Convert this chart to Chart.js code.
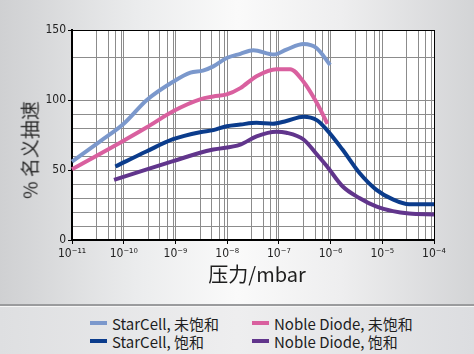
<!DOCTYPE html>
<html>
<head>
<meta charset="utf-8">
<script src="https://cdn.jsdelivr.net/npm/chart.js@4/dist/chart.umd.min.js"></script>
<style>
    body { margin: 0; width: 474px; height: 354px; overflow: hidden; font-family: "Liberation Sans Narrow", "Noto Sans CJK SC", sans-serif; }
    #top { position: absolute; left: 0; top: 0; width: 474px; height: 305px;
        background: linear-gradient(90deg, #cfd0d2 0%, #ecedee 30%, #fafafa 50%, #eeeeef 72%, #d3d4d6 100%); }
    #chart { position: absolute; left: 0; top: 0; }
    #ytitle { position: absolute; left: 29px; top: 150px; transform: translate(-50%, -50%) rotate(-90deg);
        font-family: "Noto Sans CJK SC", sans-serif; font-size: 19px; color: #2a2a2a; white-space: nowrap; }
    #xtitle { position: absolute; left: 257px; top: 273px; transform: translate(-50%, -50%);
        font-family: "Noto Sans CJK SC", sans-serif; font-size: 20px; color: #1e1e1e; white-space: nowrap; }
    #sep { position: absolute; left: 0; top: 304px; width: 474px; height: 2px; background: #9a9b9d; border-bottom: 1px solid #f6f6f6; }
    #bottom { position: absolute; left: 0; top: 307px; width: 474px; height: 47px;
        background: linear-gradient(90deg, #dedfe1 0%, #eeeeef 50%, #dcdde0 100%); }
    .item { position: absolute; display: flex; align-items: center; font-size: 15px; color: #1e1e1e; white-space: nowrap;
        font-family: "Liberation Sans Narrow", "Noto Sans CJK SC", sans-serif; }
    .item span.sw { display: inline-block; width: 17px; height: 4px; margin-right: 5px; }
</style>
</head>
<body>
<div id="top">
    <canvas id="chart" width="474" height="290"></canvas>
    <div id="ytitle">% 名义抽速</div>
    <div id="xtitle">压力/mbar</div>
</div>
<div id="sep"></div>
<div id="bottom"></div>
<div id="legend"></div>
<script>
// Axis ticks
const xDecades = [1e-11, 1e-10, 1e-9, 1e-8, 1e-7, 1e-6, 1e-5, 1e-4];
const xTickLabels = ['10⁻¹¹', '10⁻¹⁰', '10⁻⁹', '10⁻⁸', '10⁻⁷', '10⁻⁶', '10⁻⁵', '10⁻⁴'];
const xMinorSteps = [1, 3, 5, 7, 9];
const yGridValues = [0, 10, 20, 30, 40, 50, 60, 70, 80, 90, 100, 130, 150];
const yTickLabels = [0, 50, 100, 150];

// Series (pressure in mbar, % nominal pumping speed)
const seriesNames = ['StarCell, 未饱和', 'Noble Diode, 未饱和', 'StarCell, 饱和', 'Noble Diode, 饱和'];

const starUnsatP = [1e-11, 3.5e-11, 1e-10, 2.8e-10, 9e-10, 1.95e-9, 3.4e-9, 5.4e-9, 9.8e-9, 1.8e-8, 3.2e-8, 8e-8, 1.4e-7, 3e-7, 5.4e-7, 9.8e-7];
const starUnsatV = [56, 70.5, 83, 100, 113, 119.5, 121, 124, 130, 133, 135.5, 132.5, 136, 140, 137, 125];

const nobleUnsatP = [1e-11, 8.5e-11, 2.8e-10, 9e-10, 3e-9, 5.4e-9, 9.8e-9, 1.8e-8, 3.7e-8, 9e-8, 1.65e-7, 3e-7, 5.4e-7, 8.7e-7];
const nobleUnsatV = [50.5, 69.5, 80.5, 92, 100.5, 102.5, 104, 108.5, 117, 122, 122, 113, 98, 83];

const starSatP = [6.9e-11, 2.8e-10, 9e-10, 3e-9, 5.4e-9, 9.8e-9, 1.8e-8, 3.7e-8, 7.6e-8, 1.4e-7, 3e-7, 5.4e-7, 8.3e-7, 1.7e-6, 3.6e-6, 7.6e-6, 1.6e-5, 3.3e-5, 1e-4];
const starSatV = [52.5, 63.4, 72, 77, 78.5, 81.3, 82.5, 83.7, 83, 85, 88, 85.6, 79, 64.6, 48, 36, 29, 25.5, 25.5];

const nobleSatP = [6.5e-11, 2.8e-10, 9e-10, 3e-9, 5.4e-9, 1.8e-8, 3.7e-8, 8.9e-8, 1.4e-7, 3e-7, 5.2e-7, 8.5e-7, 1.7e-6, 3.6e-6, 7.6e-6, 1.6e-5, 3.3e-5, 1e-4];
const nobleSatV = [43, 50.5, 56.3, 62.3, 64.6, 68.2, 74, 77.3, 76.6, 71.8, 62, 52.7, 38.4, 30, 24, 20.6, 18.9, 18.2];

const colors = ['#7b98cc', '#d9609f', '#0b3c8c', '#61358c'];

const toPoints = (ps, vs) => ps.map((p, i) => ({ x: p, y: vs[i] }));
const allSeries = [
    toPoints(starUnsatP, starUnsatV),
    toPoints(nobleUnsatP, nobleUnsatV),
    toPoints(starSatP, starSatV),
    toPoints(nobleSatP, nobleSatV)
];

const xGridValues = [];
xDecades.forEach((d, i) => {
    if (i === xDecades.length - 1) { xGridValues.push(d); return; }
    xMinorSteps.forEach(m => xGridValues.push(m * d));
});

const decadeIndex = v => xDecades.findIndex(d => Math.abs(Math.log10(v) - Math.log10(d)) < 1e-6);

const tickFont = { family: "'Liberation Sans Narrow', 'DejaVu Sans Condensed', sans-serif", size: 12 };

// white plot area
const plotBackground = {
    id: 'plotBackground',
    beforeDraw(chart) {
        const { ctx, chartArea: a } = chart;
        ctx.save();
        ctx.fillStyle = '#ffffff';
        ctx.fillRect(a.left, a.top, a.right - a.left, a.bottom - a.top);
        ctx.restore();
    }
};

new Chart(document.getElementById('chart'), {
    type: 'line',
    data: {
        datasets: allSeries.map((pts, i) => ({
            label: seriesNames[i],
            data: pts,
            borderColor: colors[i],
            backgroundColor: colors[i],
            borderWidth: 4,
            pointRadius: 0,
            fill: false,
            cubicInterpolationMode: 'monotone',
            clip: false
        }))
    },
    options: {
        responsive: false,
        animation: false,
        layout: { padding: { top: 30, right: 40, left: 0, bottom: 0 } },
        plugins: { legend: { display: false }, tooltip: { enabled: false } },
        scales: {
            x: {
                type: 'logarithmic',
                min: 1e-11,
                max: 1e-4,
                afterBuildTicks: scale => { scale.ticks = xGridValues.map(v => ({ value: v })); },
                afterFit: scale => { scale.height = 50; },
                border: { display: true, color: '#000', width: 2 },
                grid: {
                    color: ctx => (ctx.tick && decadeIndex(ctx.tick.value) === xDecades.length - 1) ? '#000' : '#8c8c8c',
                    lineWidth: 1,
                    tickLength: 4,
                    tickColor: ctx => (ctx.tick && decadeIndex(ctx.tick.value) >= 0) ? '#000' : 'rgba(0,0,0,0)'
                },
                ticks: {
                    autoSkip: false,
                    maxRotation: 0,
                    padding: 3,
                    color: '#222',
                    font: tickFont,
                    callback: v => {
                        const i = decadeIndex(v);
                        return i >= 0 ? xTickLabels[i] : '';
                    }
                }
            },
            y: {
                min: 0,
                max: 150,
                afterBuildTicks: scale => { scale.ticks = yGridValues.map(v => ({ value: v })); },
                afterFit: scale => { scale.width = 72; },
                border: { display: true, color: '#000', width: 2 },
                grid: {
                    color: ctx => (ctx.tick && ctx.tick.value === 150) ? '#000' : '#8c8c8c',
                    lineWidth: 1,
                    tickLength: 4,
                    tickColor: ctx => (ctx.tick && yTickLabels.includes(ctx.tick.value)) ? '#000' : 'rgba(0,0,0,0)'
                },
                ticks: {
                    autoSkip: false,
                    padding: 2,
                    color: '#222',
                    font: tickFont,
                    callback: v => yTickLabels.includes(v) ? String(v) : ''
                }
            }
        }
    },
    plugins: [plotBackground]
});

// legend in two columns
const legend = document.getElementById('legend');
const legendPos = [[90, 323], [252, 323], [90, 341], [252, 341]];
seriesNames.forEach((name, i) => {
    const item = document.createElement('div');
    item.className = 'item';
    item.style.left = legendPos[i][0] + 'px';
    item.style.top = (legendPos[i][1] - 10) + 'px';
    item.style.height = '20px';
    const sw = document.createElement('span');
    sw.className = 'sw';
    sw.style.background = colors[i];
    item.appendChild(sw);
    item.appendChild(document.createTextNode(name));
    legend.appendChild(item);
});
</script>
</body>
</html>
